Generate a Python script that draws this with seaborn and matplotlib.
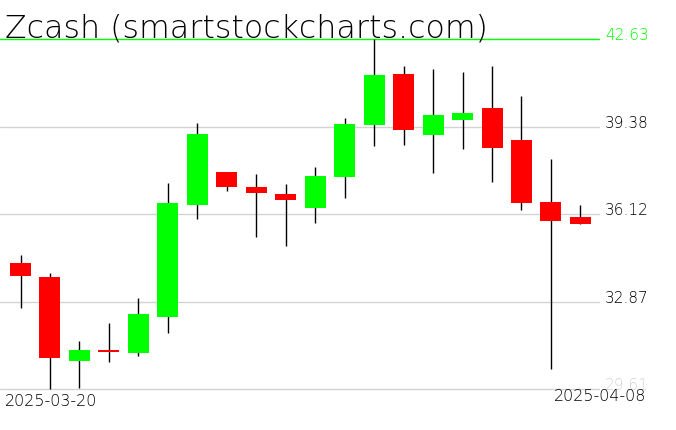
import numpy as np
import pandas as pd
import matplotlib
matplotlib.use("Agg")
import matplotlib.pyplot as plt
import seaborn as sns

# ---- data ----
dates = pd.date_range("2025-03-20", "2025-04-08", freq="D").strftime("%Y-%m-%d").tolist()
opens  = [34.30, 33.78, 30.65, 31.06, 30.95, 32.29, 36.46, 37.68, 37.12, 36.87,
          36.34, 37.50, 39.43, 41.33, 39.06, 39.62, 40.06, 38.87, 36.57, 36.01]
highs  = [34.60, 33.93, 31.40, 32.07, 33.00, 37.27, 39.51, 37.70, 37.61, 37.24,
          37.87, 39.69, 42.63, 41.63, 41.52, 41.40, 41.63, 40.51, 38.17, 36.46]
lows   = [32.62, 29.61, 29.65, 30.61, 30.84, 31.69, 35.93, 36.98, 35.26, 34.93,
          35.79, 36.72, 38.65, 38.69, 37.65, 38.54, 37.31, 36.27, 30.35, 35.75]
closes = [33.81, 30.76, 31.06, 31.00, 32.40, 36.53, 39.10, 37.12, 36.90, 36.64,
          37.53, 39.47, 41.29, 39.25, 39.80, 39.88, 38.58, 36.53, 35.86, 35.75]
title = "Zcash (smartstockcharts.com)"

df = pd.DataFrame({"date": dates, "open": opens, "high": highs, "low": lows, "close": closes})
df["idx"] = np.arange(len(df))

sns.set_theme(style="white")
plt.rcParams["font.family"] = ["DejaVu Sans"]

W, H = 676, 431
fig = plt.figure(figsize=(W / 100, H / 100), dpi=100)
fig.patch.set_facecolor("white")
ax = fig.add_axes([0, 0, 600 / W, 1])
ax.set_facecolor("white")
for s in ax.spines.values():
    s.set_visible(False)

vmin, vmax = min(lows), max(highs)
ppu = 350 / (vmax - vmin)  # pixels per unit
ax.set_ylim(vmin - (H - 390) / ppu, vmax + 40 / ppu)
step_px = 29.47
ax.set_xlim(-20.5 / step_px, (600 - 20.5) / step_px)
ax.set_xticks([])
ax.set_yticks([])

levels = np.linspace(vmin, vmax, 5)
for i, lv in enumerate(levels):
    col = "#00ff00" if i == 4 else "#d3d3d3"
    ax.axhline(lv, color=col, lw=1.0, zorder=1)

# wicks
ax.vlines(df["idx"], df["low"], df["high"], color="black", lw=1.0, zorder=2)
# bodies
up = df["close"] >= df["open"]
colors = np.where(up, "#00ff00", "#ff0000")
bottoms = np.minimum(df["open"], df["close"])
heights = np.maximum(np.abs(df["close"] - df["open"]), 0.06)
ax.bar(df["idx"], heights, bottom=bottoms, width=21 / step_px, color=colors,
       edgecolor="none", linewidth=0, zorder=3)

# right-hand price labels
for i, lv in enumerate(levels):
    col = "#00ff00" if i == 4 else ("#d3d3d3" if i == 0 else "black")
    ax.text(605 / 600, lv, f"{lv:.2f}", transform=ax.get_yaxis_transform(),
            ha="left", va="baseline", fontsize=11, color=col, clip_on=False,
            fontweight="light")

# date labels
fig.text(5 / W, 1 - 406 / H, dates[0], ha="left", va="baseline", fontsize=11.5,
         color="black", fontweight="light")
fig.text(646 / W, 1 - 401 / H, dates[-1], ha="right", va="baseline", fontsize=11.5,
         color="black", fontweight="light")

# title
fig.text(5 / W, 1 - 38 / H, title, ha="left", va="baseline", fontsize=22.8,
         color="black", fontweight="light")

fig.savefig("out.png", dpi=100)
